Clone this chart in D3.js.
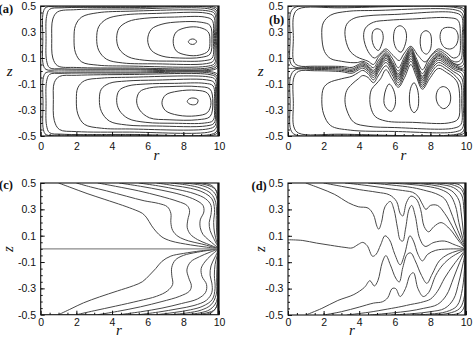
<!DOCTYPE html>
<html><head><meta charset="utf-8">
<script src="https://cdn.jsdelivr.net/npm/d3@7"></script>
<style>body{margin:0;background:#fff}svg{display:block}</style>
</head><body>
<svg id="chart" width="474" height="338"></svg>
<script>
// ---------- data (r, z) ----------
const xTicks = [0,2,4,6,8,10];
const xTickLabels = ["0","2","4","6","8","10"];
const yTicks = [0.5,0.3,0.1,-0.1,-0.3,-0.5];
const yTickLabels = ["0.5","0.3","0.1","-0.1","-0.3","-0.5"];
const panelLabels = ["(a)","(b)","(c)","(d)"];

const aUpperLoops = [
 [[0.12,0.25],[0.14,0.45],[0.3,0.49],[1,0.493],[5,0.494],[9.7,0.493],[9.93,0.47],[9.95,0.25],[9.93,0.03],[9.7,0.01],[5,0.008],[1,0.008],[0.3,0.012],[0.14,0.05]],
 [[0.3,0.25],[0.33,0.42],[0.5,0.475],[1.2,0.486],[5,0.488],[9.6,0.486],[9.88,0.46],[9.9,0.25],[9.88,0.04],[9.6,0.017],[5,0.015],[1.2,0.017],[0.5,0.025],[0.33,0.08]],
 [[0.62,0.25],[0.68,0.4],[0.95,0.455],[2,0.472],[5,0.477],[9.5,0.476],[9.82,0.45],[9.85,0.25],[9.82,0.05],[9.5,0.026],[5,0.023],[2,0.027],[0.95,0.04],[0.68,0.1]],
 [[1.87,0.25],[1.95,0.35],[2.3,0.415],[3.2,0.448],[5,0.46],[9.4,0.462],[9.76,0.44],[9.8,0.25],[9.76,0.06],[9.4,0.038],[5,0.038],[3.2,0.045],[2.3,0.07],[1.95,0.14]],
 [[3.14,0.25],[3.25,0.34],[3.7,0.4],[4.6,0.43],[6.5,0.443],[9.3,0.445],[9.7,0.42],[9.74,0.25],[9.7,0.08],[9.3,0.057],[6.5,0.055],[4.6,0.062],[3.7,0.09],[3.25,0.16]],
 [[4.26,0.25],[4.4,0.33],[4.9,0.38],[5.8,0.405],[7.5,0.415],[9.2,0.415],[9.62,0.39],[9.68,0.25],[9.62,0.1],[9.2,0.08],[7.5,0.076],[5.8,0.083],[4.9,0.11],[4.4,0.17]],
 [[6.0,0.24],[6.2,0.32],[6.8,0.36],[7.8,0.378],[9.0,0.375],[9.5,0.35],[9.6,0.24],[9.5,0.13],[9.0,0.105],[7.8,0.1],[6.8,0.115],[6.2,0.16]],
 [[7.43,0.23],[7.6,0.3],[8.2,0.335],[8.9,0.335],[9.4,0.3],[9.49,0.23],[9.4,0.155],[8.9,0.122],[8.2,0.122],[7.6,0.155]],
 [[8.28,0.225],[8.4,0.243],[8.6,0.245],[8.74,0.228],[8.62,0.207],[8.4,0.207]]
];
const aLowerLoops = [
 [[0.13,-0.25],[0.15,-0.05],[0.3,-0.012],[1,-0.009],[5,-0.008],[9.7,-0.01],[9.93,-0.03],[9.95,-0.25],[9.93,-0.47],[9.7,-0.492],[5,-0.494],[1,-0.493],[0.3,-0.49],[0.15,-0.45]],
 [[0.3,-0.25],[0.33,-0.08],[0.5,-0.026],[1.2,-0.018],[5,-0.016],[9.6,-0.018],[9.88,-0.04],[9.9,-0.25],[9.88,-0.46],[9.6,-0.486],[5,-0.488],[1.2,-0.486],[0.5,-0.475],[0.33,-0.42]],
 [[0.71,-0.22],[0.76,-0.09],[1.05,-0.042],[2,-0.033],[5,-0.027],[9.5,-0.028],[9.83,-0.05],[9.86,-0.25],[9.83,-0.44],[9.5,-0.468],[5,-0.47],[2,-0.466],[1.05,-0.45],[0.76,-0.38]],
 [[2.0,-0.22],[2.08,-0.13],[2.45,-0.075],[3.4,-0.055],[5,-0.048],[9.4,-0.045],[9.78,-0.065],[9.82,-0.25],[9.78,-0.42],[9.4,-0.445],[5,-0.446],[3.4,-0.44],[2.45,-0.41],[2.08,-0.33]],
 [[3.29,-0.22],[3.4,-0.14],[3.85,-0.095],[4.8,-0.077],[6.5,-0.07],[9.3,-0.068],[9.73,-0.09],[9.78,-0.25],[9.73,-0.4],[9.3,-0.422],[6.5,-0.423],[4.8,-0.415],[3.85,-0.385],[3.4,-0.31]],
 [[4.26,-0.225],[4.4,-0.15],[4.9,-0.115],[5.9,-0.1],[7.5,-0.095],[9.2,-0.095],[9.67,-0.115],[9.73,-0.25],[9.67,-0.38],[9.2,-0.4],[7.5,-0.402],[5.9,-0.395],[4.9,-0.365],[4.4,-0.3]],
 [[5.38,-0.23],[5.55,-0.16],[6.1,-0.13],[7.2,-0.12],[8.8,-0.12],[9.5,-0.14],[9.65,-0.24],[9.5,-0.35],[8.8,-0.375],[7.2,-0.375],[6.1,-0.36],[5.55,-0.3]],
 [[6.8,-0.245],[7.0,-0.185],[7.7,-0.155],[8.7,-0.148],[9.35,-0.17],[9.55,-0.245],[9.35,-0.32],[8.7,-0.345],[7.7,-0.34],[7.0,-0.305]],
 [[8.22,-0.233],[8.35,-0.212],[8.6,-0.208],[8.82,-0.222],[8.75,-0.253],[8.5,-0.26],[8.3,-0.25]]
];

const bSeparatrix = [[0,0.02],[1.5,0.02],[3,0.015],[3.6,0.005],[3.95,0.03],[4.2,0.045],[4.5,0.02],[4.8,-0.02],[5.1,0.04],[5.5,0.11],[5.85,0.04],[6.2,-0.045],[6.55,0.05],[6.9,0.14],[7.2,0.05],[7.55,-0.065],[7.95,0.03],[8.45,0.11],[8.9,0.075],[9.4,0.03],[9.8,0.01],[10,0.0]];
const bUpperLoops = [
 [[0.12,0.25],[0.15,0.45],[0.4,0.49],[3,0.493],[9.6,0.493],[9.93,0.47],[9.95,0.25],[9.93,0.04],[9.8,0.02],[9.4,0.04],[8.9,0.085],[8.45,0.12],[7.95,0.04],[7.55,-0.052],[7.2,0.06],[6.9,0.15],[6.55,0.062],[6.2,-0.033],[5.85,0.05],[5.5,0.12],[5.1,0.05],[4.8,-0.008],[4.5,0.03],[4.2,0.055],[3.95,0.04],[3.6,0.015],[3,0.025],[1.5,0.028],[0.4,0.03],[0.15,0.06]],
 [[0.3,0.25],[0.33,0.43],[0.6,0.478],[3,0.486],[9.5,0.486],[9.86,0.46],[9.9,0.25],[9.86,0.05],[9.7,0.035],[9.4,0.05],[8.9,0.095],[8.45,0.13],[7.95,0.055],[7.55,-0.04],[7.2,0.07],[6.9,0.16],[6.55,0.075],[6.2,-0.02],[5.85,0.06],[5.5,0.13],[5.1,0.065],[4.8,0.005],[4.5,0.04],[4.2,0.065],[3.95,0.05],[3.6,0.028],[3,0.035],[1.5,0.037],[0.6,0.04],[0.33,0.07]],
 [[1.9,0.27],[1.98,0.37],[2.4,0.43],[3.3,0.458],[5,0.466],[9.4,0.47],[9.8,0.44],[9.84,0.25],[9.8,0.07],[9.6,0.05],[9.3,0.06],[8.9,0.105],[8.45,0.14],[7.95,0.075],[7.55,-0.02],[7.2,0.08],[6.9,0.17],[6.55,0.09],[6.2,0.0],[5.85,0.075],[5.5,0.14],[5.1,0.085],[4.8,0.025],[4.5,0.055],[4.2,0.075],[3.9,0.065],[3.5,0.065],[3.0,0.075],[2.4,0.095],[2.05,0.15]],
 [[3.2,0.28],[3.3,0.36],[3.7,0.405],[4.5,0.425],[6,0.435],[9.3,0.45],[9.75,0.42],[9.78,0.25],[9.72,0.09],[9.5,0.07],[9.2,0.08],[8.9,0.12],[8.45,0.155],[7.95,0.1],[7.55,0.01],[7.2,0.1],[6.9,0.18],[6.55,0.11],[6.2,0.025],[5.85,0.1],[5.5,0.155],[5.1,0.11],[4.8,0.05],[4.5,0.075],[4.2,0.09],[3.85,0.11],[3.45,0.16]],
 [[4.25,0.26],[4.35,0.33],[4.8,0.375],[5.6,0.39],[7,0.4],[9,0.41],[9.55,0.39],[9.68,0.25],[9.6,0.12],[9.3,0.1],[8.9,0.14],[8.45,0.17],[8.1,0.13],[7.7,0.07],[7.3,0.12],[6.9,0.19],[6.5,0.13],[6.25,0.08],[5.9,0.12],[5.5,0.17],[5.15,0.13],[4.85,0.1],[4.5,0.15]]
];
const bUpperCells = [
 [[4.72,0.27],[4.8,0.31],[5.0,0.325],[5.25,0.31],[5.35,0.26],[5.25,0.2],[5.08,0.158],[4.9,0.175],[4.75,0.22]],
 [[5.93,0.27],[6.05,0.33],[6.3,0.348],[6.55,0.325],[6.66,0.27],[6.55,0.19],[6.35,0.145],[6.12,0.165],[5.97,0.21]],
 [[7.43,0.24],[7.52,0.29],[7.75,0.31],[7.98,0.29],[8.06,0.23],[7.98,0.16],[7.78,0.13],[7.55,0.15],[7.45,0.19]],
 [[8.55,0.28],[8.7,0.325],[9.05,0.336],[9.4,0.32],[9.56,0.27],[9.45,0.2],[9.15,0.17],[8.8,0.18],[8.6,0.22]]
];
const bLowerLoops = [
 [[0.12,-0.25],[0.15,-0.04],[0.4,0.008],[1.5,0.012],[3,0.005],[3.6,-0.005],[3.95,0.02],[4.2,0.035],[4.5,0.008],[4.8,-0.035],[5.1,0.028],[5.5,0.097],[5.85,0.028],[6.2,-0.058],[6.55,0.037],[6.9,0.127],[7.2,0.038],[7.55,-0.078],[7.95,0.018],[8.45,0.097],[8.9,0.063],[9.4,0.018],[9.8,0.0],[9.93,-0.03],[9.95,-0.25],[9.93,-0.47],[9.6,-0.493],[3,-0.493],[0.4,-0.49],[0.15,-0.45]],
 [[0.3,-0.25],[0.33,-0.05],[0.6,-0.002],[1.5,0.002],[3,-0.005],[3.6,-0.017],[3.95,0.008],[4.2,0.022],[4.5,-0.005],[4.8,-0.05],[5.1,0.015],[5.5,0.083],[5.85,0.014],[6.2,-0.072],[6.55,0.022],[6.9,0.113],[7.2,0.023],[7.55,-0.093],[7.95,0.005],[8.45,0.083],[8.9,0.05],[9.4,0.005],[9.7,-0.012],[9.86,-0.05],[9.9,-0.25],[9.86,-0.46],[9.5,-0.486],[3,-0.486],[0.6,-0.478],[0.33,-0.43]],
 [[1.9,-0.22],[2.0,-0.13],[2.3,-0.09],[3.0,-0.06],[3.6,-0.04],[3.95,-0.012],[4.2,0.005],[4.5,-0.022],[4.8,-0.068],[5.1,-0.002],[5.5,0.065],[5.85,-0.005],[6.2,-0.09],[6.55,0.003],[6.9,0.095],[7.2,0.005],[7.55,-0.11],[7.95,-0.012],[8.45,0.065],[8.9,0.035],[9.3,-0.005],[9.6,-0.03],[9.8,-0.07],[9.84,-0.25],[9.8,-0.44],[9.4,-0.468],[6,-0.465],[3.5,-0.455],[2.4,-0.42],[2.0,-0.33]],
 [[3.2,-0.22],[3.3,-0.15],[3.6,-0.1],[3.95,-0.06],[4.2,-0.035],[4.5,-0.05],[4.8,-0.09],[5.1,-0.03],[5.5,0.04],[5.85,-0.03],[6.2,-0.11],[6.55,-0.02],[6.9,0.075],[7.2,-0.015],[7.55,-0.125],[7.95,-0.035],[8.45,0.045],[8.9,0.015],[9.3,-0.025],[9.55,-0.06],[9.72,-0.1],[9.76,-0.25],[9.72,-0.41],[9.3,-0.44],[6,-0.435],[4.5,-0.425],[3.7,-0.395],[3.3,-0.3]],
 [[4.6,-0.2],[4.7,-0.14],[4.95,-0.1],[5.2,-0.06],[5.5,0.01],[5.85,-0.06],[6.2,-0.125],[6.55,-0.05],[6.9,0.05],[7.2,-0.04],[7.55,-0.14],[7.95,-0.06],[8.45,0.02],[8.9,-0.01],[9.3,-0.05],[9.55,-0.1],[9.65,-0.25],[9.55,-0.37],[9,-0.4],[7,-0.395],[5.5,-0.385],[4.9,-0.35],[4.65,-0.28]]
];
const bLowerCells = [
 [[5.4,-0.2],[5.5,-0.14],[5.68,-0.1],[5.88,-0.13],[6.03,-0.2],[6.0,-0.27],[5.8,-0.31],[5.55,-0.29],[5.4,-0.25]],
 [[6.82,-0.2],[6.92,-0.12],[7.08,-0.09],[7.25,-0.13],[7.34,-0.21],[7.28,-0.29],[7.08,-0.32],[6.9,-0.29]],
 [[8.32,-0.2],[8.45,-0.14],[8.72,-0.12],[9.0,-0.14],[9.14,-0.2],[9.05,-0.26],[8.75,-0.29],[8.45,-0.26]]
];

const cMidLine = [[0,0],[10,0]];
const cUpperLines = [
 [[1.0,0.5],[1.7,0.465],[2.6,0.42],[3.6,0.375],[4.6,0.33],[5.3,0.295],[5.7,0.27],[5.95,0.235],[6.2,0.18],[6.45,0.135],[6.8,0.09],[7.3,0.06],[8.4,0.03],[9.3,0.013],[10,0.0]],
 [[2.0,0.5],[2.8,0.47],[3.7,0.44],[4.8,0.4],[5.8,0.365],[6.6,0.345],[7.1,0.32],[7.3,0.27],[7.3,0.2],[7.4,0.14],[7.7,0.095],[8.3,0.06],[9.0,0.038],[9.6,0.016],[10,0.0]],
 [[3.2,0.5],[4.2,0.475],[5.5,0.44],[6.7,0.4],[7.7,0.36],[8.2,0.33],[8.35,0.29],[8.25,0.22],[8.22,0.16],[8.4,0.11],[8.8,0.07],[9.3,0.04],[9.7,0.018],[10,0.0]],
 [[4.4,0.5],[5.6,0.475],[6.8,0.445],[7.9,0.41],[8.7,0.37],[9.1,0.33],[9.15,0.28],[8.95,0.22],[8.95,0.16],[9.1,0.11],[9.4,0.07],[9.75,0.03],[10,0.0]],
 [[5.5,0.5],[6.6,0.478],[7.7,0.45],[8.6,0.42],[9.25,0.38],[9.55,0.33],[9.55,0.26],[9.45,0.2],[9.5,0.14],[9.7,0.08],[10,0.0]],
 [[6.5,0.5],[7.5,0.48],[8.4,0.46],[9.1,0.43],[9.6,0.38],[9.75,0.3],[9.7,0.2],[9.75,0.12],[9.88,0.05],[10,0.0]],
 [[7.3,0.5],[8.2,0.485],[9.0,0.46],[9.55,0.42],[9.82,0.35],[9.85,0.22],[9.88,0.1],[10,0.0]],
 [[8.0,0.5],[8.9,0.485],[9.5,0.455],[9.85,0.4],[9.92,0.25],[9.95,0.1],[10,0.0]],
 [[8.6,0.5],[9.3,0.485],[9.8,0.45],[9.95,0.3],[10,0.0]],
 [[9.1,0.5],[9.6,0.48],[9.92,0.42],[9.98,0.2],[10,0.0]]
];
const cLowerLines = [
 [[1.0,-0.5],[1.7,-0.455],[2.4,-0.41],[3.3,-0.365],[4.3,-0.32],[5.2,-0.28],[5.7,-0.25],[6.1,-0.2],[6.45,-0.15],[6.8,-0.095],[7.3,-0.055],[8.0,-0.035],[9.0,-0.015],[10,0]],
 [[2.0,-0.5],[3.0,-0.47],[4.2,-0.435],[5.5,-0.395],[6.5,-0.36],[7.1,-0.32],[7.4,-0.27],[7.35,-0.2],[7.35,-0.14],[7.55,-0.085],[8.0,-0.05],[8.8,-0.025],[10,0]],
 [[3.2,-0.5],[4.3,-0.475],[5.6,-0.44],[6.8,-0.4],[7.8,-0.36],[8.35,-0.32],[8.45,-0.28],[8.3,-0.22],[8.2,-0.16],[8.4,-0.1],[8.9,-0.06],[9.5,-0.025],[10,0]],
 [[4.4,-0.5],[5.6,-0.478],[6.8,-0.45],[7.9,-0.415],[8.8,-0.38],[9.25,-0.33],[9.3,-0.27],[9.05,-0.21],[9.0,-0.15],[9.2,-0.1],[9.55,-0.05],[10,0]],
 [[5.5,-0.5],[6.6,-0.48],[7.7,-0.455],[8.6,-0.43],[9.3,-0.39],[9.6,-0.33],[9.6,-0.26],[9.5,-0.2],[9.55,-0.13],[9.75,-0.07],[10,0]],
 [[6.5,-0.5],[7.5,-0.483],[8.4,-0.463],[9.1,-0.435],[9.62,-0.385],[9.78,-0.3],[9.74,-0.2],[9.78,-0.12],[9.9,-0.05],[10,0]],
 [[7.3,-0.5],[8.2,-0.487],[9.0,-0.465],[9.55,-0.425],[9.84,-0.35],[9.87,-0.22],[9.9,-0.1],[10,0]],
 [[8.0,-0.5],[8.9,-0.487],[9.5,-0.46],[9.86,-0.4],[9.93,-0.25],[9.96,-0.1],[10,0]],
 [[8.6,-0.5],[9.3,-0.487],[9.8,-0.455],[9.95,-0.3],[10,0]],
 [[9.1,-0.5],[9.6,-0.482],[9.92,-0.42],[9.98,-0.2],[10,0]]
];

const dMidLine = [[0,0.07],[0.8,0.065],[1.6,0.045],[2.4,0.028],[3.2,0.012],[3.6,0.008],[3.95,0.035],[4.2,0.05],[4.45,0.025],[4.75,-0.055],[4.95,-0.04],[5.2,0.03],[5.45,0.1],[5.7,0.07],[6.0,-0.04],[6.3,-0.12],[6.55,-0.04],[6.85,0.1],[7.05,0.06],[7.3,-0.04],[7.55,-0.09],[7.85,-0.04],[8.3,-0.01],[9.0,0.0],[10,0.0]];
const dUpperLines = [
 [[1.0,0.5],[1.8,0.46],[2.6,0.415],[3.4,0.35],[3.95,0.32],[4.5,0.31],[4.8,0.26],[5.0,0.17],[5.1,0.15],[5.25,0.2],[5.45,0.32],[5.75,0.36],[5.95,0.3],[6.15,0.16],[6.3,0.07],[6.45,0.06],[6.6,0.15],[6.8,0.3],[6.95,0.33],[7.15,0.25],[7.4,0.08],[7.7,0.02],[8.2,0.05],[8.8,0.06],[9.4,0.03],[10,0.0]],
 [[2.0,0.5],[3.0,0.475],[4.0,0.45],[5.0,0.43],[5.7,0.41],[6.1,0.36],[6.3,0.27],[6.45,0.25],[6.65,0.35],[6.9,0.4],[7.2,0.38],[7.45,0.3],[7.65,0.17],[7.9,0.13],[8.2,0.17],[8.6,0.2],[9.1,0.15],[9.6,0.06],[10,0]],
 [[3.2,0.5],[4.5,0.48],[5.8,0.455],[6.6,0.44],[7.0,0.43],[7.3,0.4],[7.55,0.34],[7.75,0.3],[8.0,0.33],[8.4,0.33],[8.8,0.27],[9.2,0.18],[9.6,0.08],[10,0]],
 [[4.5,0.5],[5.8,0.485],[7.0,0.465],[7.8,0.44],[8.3,0.42],[8.8,0.38],[9.1,0.3],[9.4,0.19],[9.7,0.09],[10,0]],
 [[5.6,0.5],[6.8,0.49],[7.8,0.475],[8.6,0.45],[9.1,0.41],[9.4,0.33],[9.6,0.2],[9.8,0.09],[10,0]],
 [[6.6,0.5],[7.6,0.492],[8.5,0.475],[9.2,0.44],[9.6,0.37],[9.75,0.25],[9.88,0.1],[10,0]],
 [[7.5,0.5],[8.5,0.49],[9.3,0.465],[9.75,0.41],[9.88,0.3],[9.95,0.12],[10,0]],
 [[8.4,0.5],[9.2,0.488],[9.75,0.45],[9.95,0.35],[10,0]],
 [[9.1,0.5],[9.7,0.48],[9.97,0.4],[10,0]]
];
const dLowerLines = [
 [[1.0,-0.5],[1.9,-0.45],[2.8,-0.39],[3.7,-0.345],[4.3,-0.29],[4.6,-0.24],[4.85,-0.28],[5.05,-0.24],[5.3,-0.1],[5.5,-0.05],[5.75,-0.12],[6.05,-0.22],[6.25,-0.25],[6.45,-0.14],[6.7,-0.04],[6.9,-0.03],[7.15,-0.09],[7.5,-0.2],[7.8,-0.26],[8.1,-0.19],[8.5,-0.09],[9.0,-0.04],[9.5,-0.015],[10,0]],
 [[2.0,-0.5],[3.0,-0.475],[4.0,-0.44],[4.8,-0.41],[5.3,-0.4],[5.6,-0.37],[5.85,-0.3],[6.05,-0.3],[6.3,-0.36],[6.6,-0.3],[6.85,-0.2],[7.05,-0.18],[7.3,-0.3],[7.6,-0.36],[7.9,-0.33],[8.3,-0.2],[8.7,-0.12],[9.2,-0.06],[10,0]],
 [[3.3,-0.5],[4.5,-0.48],[5.6,-0.455],[6.4,-0.435],[6.9,-0.42],[7.3,-0.41],[7.6,-0.4],[8.0,-0.38],[8.4,-0.32],[8.8,-0.22],[9.3,-0.12],[10,0]],
 [[4.6,-0.5],[5.8,-0.485],[6.8,-0.47],[7.6,-0.45],[8.4,-0.42],[8.9,-0.35],[9.3,-0.22],[9.65,-0.1],[10,0]],
 [[5.8,-0.5],[7.0,-0.49],[8.0,-0.475],[8.8,-0.45],[9.3,-0.38],[9.6,-0.25],[9.85,-0.1],[10,0]],
 [[7.0,-0.5],[8.0,-0.493],[8.9,-0.475],[9.5,-0.43],[9.8,-0.3],[9.93,-0.12],[10,0]],
 [[8.0,-0.5],[9.0,-0.488],[9.65,-0.45],[9.92,-0.35],[10,0]],
 [[9.0,-0.5],[9.7,-0.48],[9.97,-0.4],[10,0]]
];

// ---------- layout ----------
const svg = d3.select("#chart");
const LINE = "#3a3a3a";
const LINE2 = "#484848";
const panels = [
 {x0:40.7,x1:219,y0:6,y1:136,xpad:6.5,lab:[-1.5,13],rT:[156.5,160],zT:[9.7,76],zRot:false,
  sets:[{data:aUpperLoops,closed:true},{data:aLowerLoops,closed:true}]},
 {x0:288,x1:466,y0:6,y1:136,xpad:6.5,lab:[269,23.5],rT:[403.5,160],zT:[260.7,76],zRot:false,
  sets:[{data:bUpperLoops,closed:true},{data:bUpperCells,closed:true},{data:bLowerLoops,closed:true},{data:bLowerCells,closed:true},{data:[bSeparatrix],closed:false}]},
 {x0:40.7,x1:219,y0:183,y1:314.7,xpad:3.8,lab:[-1,189],rT:[119,335],zT:[7,249],zRot:true,
  sets:[{data:cUpperLines,closed:false,color:LINE2},{data:cLowerLines,closed:false,color:LINE2},{data:[cMidLine],closed:false,color:"#8a8a8a",w:1.4}]},
 {x0:288,x1:466,y0:183,y1:315,xpad:3.8,lab:[251.5,189.5],rT:[352,335],zT:[259,249],zRot:true,
  sets:[{data:dUpperLines,closed:false,color:LINE2},{data:dLowerLines,closed:false,color:LINE2},{data:[dMidLine],closed:false,color:LINE2}]}
];

panels.forEach((p,i)=>{
  const x = d3.scaleLinear().domain([0,10]).range([p.x0,p.x1]);
  const y = d3.scaleLinear().domain([-0.5,0.5]).range([p.y1,p.y0]);
  const g = svg.append("g");
  const cid = "clip"+i;
  svg.append("clipPath").attr("id",cid).append("rect")
     .attr("x",p.x0).attr("y",p.y0).attr("width",p.x1-p.x0).attr("height",p.y1-p.y0);
  const lineClosed = d3.line().x(d=>x(d[0])).y(d=>y(d[1])).curve(d3.curveCatmullRomClosed.alpha(0.5));
  const lineOpen = d3.line().x(d=>x(d[0])).y(d=>y(d[1])).curve(d3.curveCatmullRom.alpha(0.5));
  const cg = g.append("g").attr("clip-path",`url(#${cid})`);
  p.sets.forEach(s=>{
    cg.append("g").selectAll("path").data(s.data).join("path")
      .attr("d", s.closed?lineClosed:lineOpen)
      .attr("fill","none").attr("stroke",s.color||LINE).attr("stroke-width",s.w||1);
  });
  // frame
  g.append("rect").attr("x",p.x0).attr("y",p.y0).attr("width",p.x1-p.x0).attr("height",p.y1-p.y0)
   .attr("fill","none").attr("stroke","#111").attr("stroke-width",1.1);
  g.append("line").attr("x1",p.x1-0.8).attr("x2",p.x1-0.8).attr("y1",p.y0).attr("y2",p.y1)
   .attr("stroke","#111").attr("stroke-width",1.8);
  // axes
  const fontFam = "Liberation Sans, Arial, Helvetica, sans-serif";
  const xMinor = d3.range(0.5,10,0.5);
  const yMinor = d3.range(-0.45,0.5,0.05);
  const ax = g.append("g").attr("transform",`translate(0,${p.y1})`)
    .call(d3.axisBottom(x).tickValues(xTicks).tickSizeInner(-4).tickSizeOuter(0).tickPadding(p.xpad)
      .tickFormat((d,k)=>xTickLabels[k]));
  const axm = g.append("g").attr("transform",`translate(0,${p.y1})`)
    .call(d3.axisBottom(x).tickValues(xMinor).tickSizeInner(-2).tickSizeOuter(0).tickFormat(""));
  const ay = g.append("g").attr("transform",`translate(${p.x0},0)`)
    .call(d3.axisLeft(y).tickValues(yTicks).tickSizeInner(-4).tickSizeOuter(0).tickPadding(4.6)
      .tickFormat((d,k)=>yTickLabels[k]));
  const aym = g.append("g").attr("transform",`translate(${p.x0},0)`)
    .call(d3.axisLeft(y).tickValues(yMinor).tickSizeInner(-2).tickSizeOuter(0).tickFormat(""));
  [ax,axm,ay,aym].forEach(a=>{
    a.select(".domain").remove();
    a.attr("font-family",fontFam).attr("font-size",10.5);
    a.selectAll("line").attr("stroke","#111");
    a.selectAll("text").attr("fill","#111");
  });
  // titles
  g.append("text").attr("x",p.rT[0]).attr("y",p.rT[1]).attr("text-anchor","middle")
   .attr("font-family","Liberation Serif, Times New Roman, serif").attr("font-style","italic")
   .attr("font-size",15).attr("fill","#111").text("r");
  const zt = g.append("text").attr("text-anchor","middle")
   .attr("font-family","Liberation Serif, Times New Roman, serif").attr("font-style","italic")
   .attr("font-size",15).attr("fill","#111").text("z");
  if (p.zRot) zt.attr("transform",`translate(${p.zT[0]+5.5},${p.zT[1]}) rotate(-90)`);
  else zt.attr("x",p.zT[0]).attr("y",p.zT[1]);
  g.append("text").attr("x",p.lab[0]).attr("y",p.lab[1])
   .attr("font-family","Liberation Serif, Times New Roman, serif").attr("font-weight","bold")
   .attr("font-size",12.5).attr("fill","#111").text(panelLabels[i]);
});
</script>
</body></html>
